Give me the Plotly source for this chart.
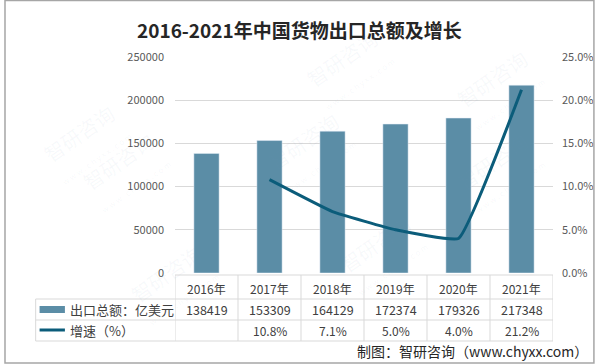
import plotly.graph_objects as go

years = ["2016年", "2017年", "2018年", "2019年", "2020年", "2021年"]
export_total = [138419, 153309, 164129, 172374, 179326, 217348]
growth = [None, 10.8, 7.1, 5.0, 4.0, 21.2]
growth_labels = ["", "10.8%", "7.1%", "5.0%", "4.0%", "21.2%"]
title = "2016-2021年中国货物出口总额及增长"
series_names = ["出口总额：亿美元", "增速（%）"]
source = "制图：智研咨询（www.chyxx.com）"

BAR = "#5B8DA6"
LINE = "#0B5C7A"
GRID = "#D9D9D9"
TXT = "#404040"
FONT = "Noto Sans CJK SC"

W, H = 606, 364
L, R, T, B = 175, 563, 57, 273
pw, ph = R - L, B - T


def px(x):
    return (x - L) / pw


def py(y):
    return (B - y) / ph


fig = go.Figure()
fig.add_trace(go.Bar(x=years, y=export_total, marker_color=BAR, name=series_names[0],
                     width=0.4, yaxis="y"))
fig.add_trace(go.Scatter(x=years, y=[g / 100 if g is not None else None for g in growth],
                         mode="lines", line=dict(color=LINE, width=3, shape="spline", smoothing=0.3),
                         name=series_names[1], yaxis="y2", connectgaps=False))

shapes = []
ann = []
line_style = dict(color=GRID, width=1)
y_top = py(275)
y_r1 = py(299)
y_r2 = py(320)
y_r3 = py(341)
shapes.append(dict(type="line", xref="paper", yref="paper", x0=0, x1=1, y0=y_top, y1=y_top, line=line_style))
for yy in (y_r1, y_r2, y_r3):
    shapes.append(dict(type="line", xref="paper", yref="paper", x0=px(32), x1=1, y0=yy, y1=yy, line=line_style))
shapes.append(dict(type="line", xref="paper", yref="paper", x0=px(32), x1=px(32), y0=y_r1, y1=y_r3, line=line_style))
for i in range(len(years) + 1):
    shapes.append(dict(type="line", xref="x", yref="paper", x0=i - 0.5, x1=i - 0.5, y0=y_top, y1=y_r3,
                       line=line_style))

shapes.append(dict(type="rect", xref="paper", yref="paper", x0=px(36), x1=px(62), y0=py(313), y1=py(306),
                   fillcolor=BAR, line=dict(width=0)))
shapes.append(dict(type="line", xref="paper", yref="paper", x0=px(36), x1=px(62), y0=py(330), y1=py(330),
                   line=dict(color=LINE, width=3)))
ann.append(dict(x=px(65), y=py(309.5), xref="paper", yref="paper", text=series_names[0], showarrow=False,
                xanchor="left", yanchor="middle", font=dict(size=13, color=TXT, family=FONT)))
ann.append(dict(x=px(65), y=py(330.5), xref="paper", yref="paper", text=series_names[1], showarrow=False,
                xanchor="left", yanchor="middle", font=dict(size=13, color=TXT, family=FONT)))

for i, yv in enumerate(years):
    ann.append(dict(x=yv, y=py(288), xref="x", yref="paper", text=yv, showarrow=False,
                    yanchor="middle", font=dict(size=12, color=TXT, family=FONT)))
    ann.append(dict(x=yv, y=py(309.5), xref="x", yref="paper", text=str(export_total[i]), showarrow=False,
                    yanchor="middle", font=dict(size=12.5, color=TXT, family=FONT)))
    if growth_labels[i]:
        ann.append(dict(x=yv, y=py(330.5), xref="x", yref="paper", text=growth_labels[i], showarrow=False,
                        yanchor="middle", font=dict(size=12, color=TXT, family=FONT)))

ann.append(dict(x=px(303), y=py(29), xref="paper", yref="paper", text="<b>" + title + "</b>", showarrow=False,
                xanchor="center", yanchor="middle", font=dict(size=19, color="#262626", family=FONT)))
ann.append(dict(x=px(601), y=py(351), xref="paper", yref="paper", text=source, showarrow=False,
                xanchor="right", yanchor="middle", font=dict(size=14, color="#262626", family=FONT)))

wm = [(70, 170), (120, 330), (260, 150), (300, 20), (440, 300), (560, 40), (560, 170), (30, 95)]
for (x, y) in wm:
    ann.append(dict(x=px(x), y=py(y), xref="paper", yref="paper",
                    text="智研咨询<br><span style='font-size:8px'>w w w . c h y x x . c o m</span>",
                    showarrow=False, textangle=-35, font=dict(size=20, color="rgba(120,150,190,0.06)", family=FONT)))

shapes.append(dict(type="rect", xref="paper", yref="paper", x0=px(0.5), x1=px(W - 1), y0=py(0.5), y1=py(H - 1),
                   line=dict(color="#A6A6A6", width=1.5), layer="above"))

fig.update_layout(
    width=W, height=H,
    margin=dict(l=L, r=W - R, t=T, b=H - B),
    paper_bgcolor="white", plot_bgcolor="white",
    showlegend=False,
    font=dict(family=FONT, color="#595959"),
    xaxis=dict(showticklabels=False, showgrid=False, zeroline=False, showline=False, ticks="",
               range=[-0.5, 5.5]),
    yaxis=dict(range=[0, 250000], dtick=50000, showgrid=True, gridcolor=GRID, gridwidth=1,
               zeroline=False, showline=False, tickformat="d", tickfont=dict(size=11, color="#595959"),
               ticklabelstandoff=10),
    yaxis2=dict(range=[0, 0.25], dtick=0.05, overlaying="y", side="right", showgrid=False,
                zeroline=False, showline=False, tickformat=".1%", tickfont=dict(size=11, color="#595959"),
                ticklabelstandoff=8),
    shapes=shapes, annotations=ann,
    bargap=0.6,
)

fig.write_html("out.html", config={"displayModeBar": False},
               post_script="document.body.style.margin='0px';document.body.style.overflow='hidden';")
